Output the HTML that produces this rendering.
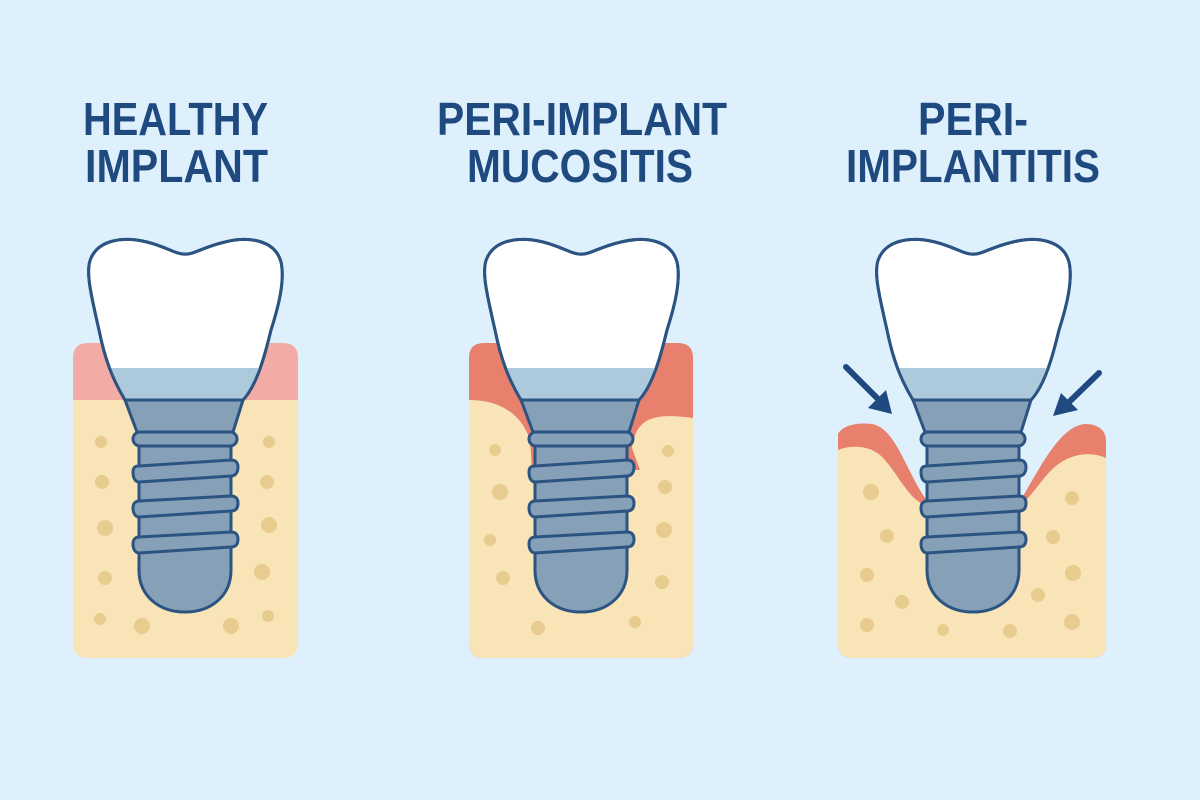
<!DOCTYPE html>
<html><head><meta charset="utf-8"><style>
html,body{margin:0;padding:0;background:#dff0fd;}
svg{display:block}
text{font-family:"Liberation Sans",sans-serif;font-weight:bold;fill:#1f4a80;font-size:46px}
</style></head><body>
<svg width="1200" height="800" viewBox="0 0 1200 800" xmlns="http://www.w3.org/2000/svg">
<rect width="1200" height="800" fill="#dff0fd"/>
<defs>
<g id="imp" stroke="#2c5482" stroke-width="3" stroke-linejoin="round">
  <path d="M-60,400 C-72,380 -80,360 -86,330 C-94,295 -100,270 -94,258 C-86,240 -62,236 -38,242 C-18,247 -8,255 0,254 C8,255 18,247 40,242 C64,236 90,240 96,262 C100,280 94,305 86,330 C80,355 72,385 58,400 Z" fill="#ffffff"/>
  <path d="M-75,368 L73,368 C68,385 64,395 58,400 L-60,400 C-66,393 -71,382 -75,368 Z" fill="#adc9dc" stroke="none"/>
  <path d="M-60,400 C-72,380 -80,360 -86,330 C-94,295 -100,270 -94,258 C-86,240 -62,236 -38,242 C-18,247 -8,255 0,254 C8,255 18,247 40,242 C64,236 90,240 96,262 C100,280 94,305 86,330 C80,355 72,385 58,400 Z" fill="none"/>
  <path d="M-60,400 L58,400 L48,432 L-48,432 Z" fill="#86a0b8"/>
  <path d="M-46,432 L46,432 L46,570 C46,596 26,612 0,612 C-26,612 -46,596 -46,570 Z" fill="#86a0b8"/>
  <rect x="-52" y="432" width="104" height="14" rx="7" fill="#86a0b8"/>
  <path d="M-52,472 C-52,466 -48,466 -46,466 L46,460 C50,460 53,462 53,467 C53,473 50,476 46,476 L-46,482 C-49,482 -52,479 -52,472 Z" fill="#86a0b8"/>
  <path d="M-52,508 C-52,502 -48,501 -46,501 L46,496 C50,496 53,498 53,503 C53,509 50,511 46,511 L-46,517 C-49,517 -52,514 -52,508 Z" fill="#86a0b8"/>
  <path d="M-52,544 C-52,538 -48,537 -46,537 L46,532 C50,532 53,534 53,539 C53,545 50,547 46,547 L-46,553 C-49,553 -52,550 -52,544 Z" fill="#86a0b8"/>
</g>
</defs>

<text x="83" y="135" textLength="185" lengthAdjust="spacingAndGlyphs">HEALTHY</text>
<text x="85" y="182" textLength="183" lengthAdjust="spacingAndGlyphs">IMPLANT</text>
<text x="437" y="135" textLength="290" lengthAdjust="spacingAndGlyphs">PERI-IMPLANT</text>
<text x="467" y="182" textLength="226" lengthAdjust="spacingAndGlyphs">MUCOSITIS</text>
<text x="918" y="135" textLength="110" lengthAdjust="spacingAndGlyphs">PERI-</text>
<text x="846" y="182" textLength="254" lengthAdjust="spacingAndGlyphs">IMPLANTITIS</text>

<path d="M73,358 Q73,343 88,343 L283,343 Q298,343 298,358 L298,400 L73,400 Z" fill="#f2aca5"/>
<path d="M73,400 L298,400 L298,643 Q298,658 283,658 L88,658 Q73,658 73,643 Z" fill="#f8e4b6"/>
<g fill="#e8cc8f">
<circle cx="101" cy="442" r="6"/><circle cx="102" cy="482" r="7"/><circle cx="105" cy="528" r="8"/><circle cx="105" cy="578" r="7"/><circle cx="100" cy="619" r="6"/><circle cx="142" cy="626" r="8"/>
<circle cx="269" cy="442" r="6"/><circle cx="267" cy="482" r="7"/><circle cx="269" cy="525" r="8"/><circle cx="262" cy="572" r="8"/><circle cx="268" cy="616" r="6"/><circle cx="231" cy="626" r="8"/>
</g>
<use href="#imp" x="185"/>

<path d="M469,358 Q469,343 484,343 L678,343 Q693,343 693,358 L693,643 Q693,658 678,658 L484,658 Q469,658 469,643 Z" fill="#e8806e"/>
<path d="M469,400 C495,400 520,410 530,440 L532,470 L640,470 L632,448 C636,420 650,412 693,418 L693,643 Q693,658 678,658 L484,658 Q469,658 469,643 Z" fill="#f8e4b6"/>
<g fill="#e8cc8f">
<circle cx="495" cy="450" r="6"/><circle cx="500" cy="492" r="8"/><circle cx="490" cy="540" r="6"/><circle cx="503" cy="578" r="7"/><circle cx="538" cy="628" r="7"/>
<circle cx="668" cy="451" r="6"/><circle cx="665" cy="487" r="7"/><circle cx="664" cy="530" r="8"/><circle cx="662" cy="582" r="7"/><circle cx="635" cy="622" r="6"/>
</g>
<use href="#imp" x="581"/>

<path d="M838,434 C842,426 856,422 872,424 C895,428 905,468 925,498 L1022,498 C1040,468 1060,426 1085,424 C1100,424 1106,432 1106,440 L1106,643 Q1106,658 1091,658 L853,658 Q838,658 838,643 Z" fill="#e8806e"/>
<path d="M838,450 C850,445 872,444 885,460 C900,478 910,500 925,505 L1020,505 C1035,495 1045,470 1065,460 C1080,452 1095,453 1106,458 L1106,643 Q1106,658 1091,658 L853,658 Q838,658 838,643 Z" fill="#f8e4b6"/>
<g fill="#e8cc8f">
<circle cx="871" cy="492" r="8"/><circle cx="887" cy="536" r="7"/><circle cx="867" cy="575" r="7"/><circle cx="902" cy="602" r="7"/><circle cx="867" cy="625" r="7"/><circle cx="943" cy="630" r="6"/>
<circle cx="1072" cy="498" r="7"/><circle cx="1053" cy="537" r="7"/><circle cx="1073" cy="573" r="8"/><circle cx="1038" cy="595" r="7"/><circle cx="1072" cy="622" r="8"/><circle cx="1010" cy="631" r="7"/>
</g>
<use href="#imp" x="973"/>

<g stroke="#1f4a80" stroke-width="6" stroke-linecap="round" fill="#1f4a80">
<line x1="846" y1="367" x2="880" y2="401"/>
<line x1="1099" y1="373" x2="1066" y2="405"/>
</g>
<polygon points="892,414 868,408 886,390" fill="#1f4a80"/>
<polygon points="1053,416 1061,393 1078,410" fill="#1f4a80"/>
</svg>
</body></html>
